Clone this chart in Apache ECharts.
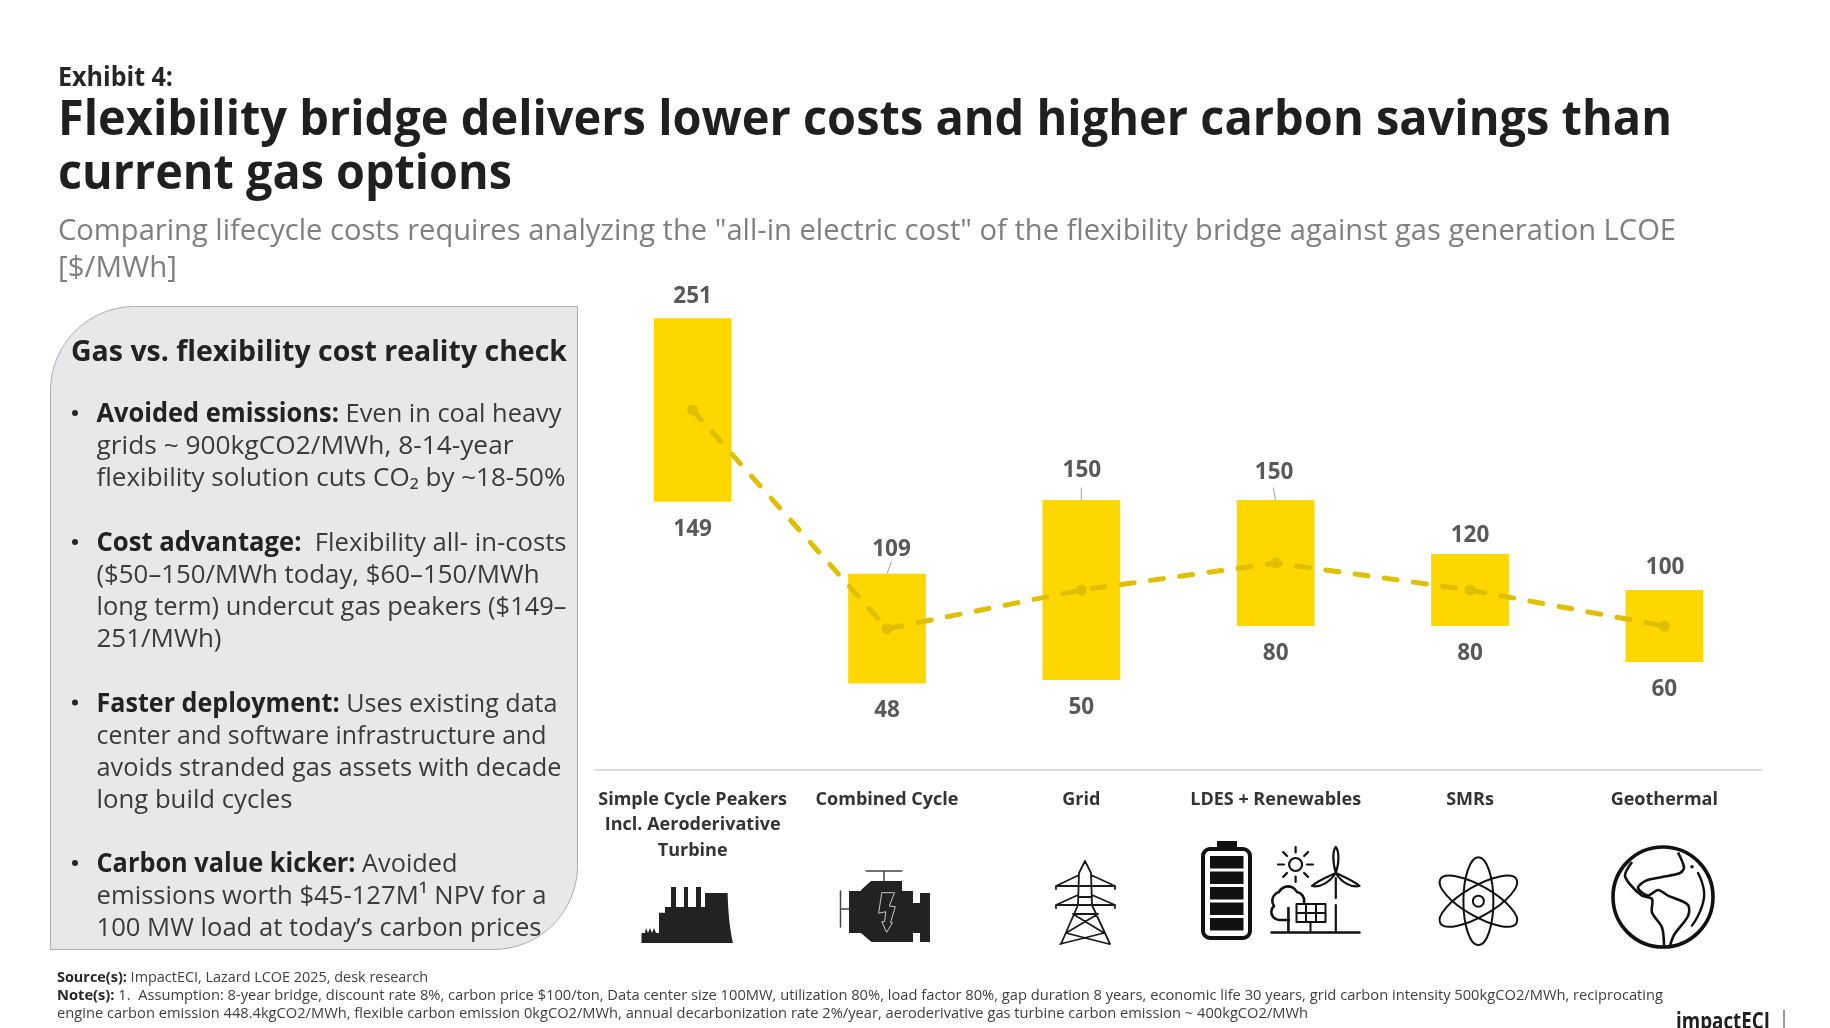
<!DOCTYPE html>
<html>
<head>
<meta charset="utf-8">
<title>Flexibility bridge cost comparison</title>
<script src="https://cdn.jsdelivr.net/npm/echarts@6/dist/echarts.min.js"></script>
<style>
  html, body { margin: 0; padding: 0; background: #fff; }
  #chart { width: 1830px; height: 1028px; }
</style>
</head>
<body>
<div id="chart"></div>
<script>
// Levelised cost ranges, $/MWh
const categories = ['Simple Cycle Peakers\nIncl. Aeroderivative\nTurbine', 'Combined Cycle', 'Grid', 'LDES + Renewables', 'SMRs', 'Geothermal'];
const highCost = [251, 109, 150, 150, 120, 100];
const lowCost = [149, 48, 50, 80, 80, 60];
const midCost = [200, 78.5, 100, 115, 100, 80];

const exhibitLabel = 'Exhibit 4:';
const titleLines = ['Flexibility bridge delivers lower costs and higher carbon savings than', 'current gas options'];
const subtitleLines = ['Comparing lifecycle costs requires analyzing the "all-in electric cost" of the flexibility bridge against gas generation LCOE', '[$/MWh]'];
const panelHeading = 'Gas vs. flexibility cost reality check';
const panelBullets = [
  { lead: 'Avoided emissions:', first: ' Even in coal heavy', rest: ['grids ~ 900kgCO2/MWh, 8-14-year', 'flexibility solution cuts CO₂ by ~18-50%'] },
  { lead: 'Cost advantage:', first: '  Flexibility all- in-costs', rest: ['($50–150/MWh today, $60–150/MWh', 'long term) undercut gas peakers ($149–', '251/MWh)'] },
  { lead: 'Faster deployment:', first: ' Uses existing data', rest: ['center and software infrastructure and', 'avoids stranded gas assets with decade', 'long build cycles'] },
  { lead: 'Carbon value kicker:', first: ' Avoided', rest: ['emissions worth $45-127M¹ NPV for a', '100 MW load at today’s carbon prices'] }
];
const sourceNote = ['Source(s):', ' ImpactECI, Lazard LCOE 2025, desk research'];
const assumptionNote = ['Note(s):', ' 1.  Assumption: 8-year bridge, discount rate 8%, carbon price $100/ton, Data center size 100MW, utilization 80%, load factor 80%, gap duration 8 years, economic life 30 years, grid carbon intensity 500kgCO2/MWh, reciprocating'];
const assumptionNoteEnd = 'engine carbon emission 448.4kgCO2/MWh, flexible carbon emission 0kgCO2/MWh, annual decarbonization rate 2%/year, aeroderivative gas turbine carbon emission ~ 400kgCO2/MWh';
const brandName = 'impactECI';

const FONT = '"Open Sans", "Noto Sans", sans-serif';
const BASELINE_SHIFT = 0.27;
const ctx = document.createElement('canvas').getContext('2d');
function measure(text, size, weight) {
  ctx.font = weight + ' ' + size + 'px ' + FONT;
  return ctx.measureText(text).width;
}

// Plain line of text placed by its baseline and fitted to a given width
function textLine(text, x, baseline, size, weight, fill, width) {
  return {
    type: 'text', x: x, y: baseline - BASELINE_SHIFT * size, scaleX: width / measure(text, size, weight), silent: true,
    style: { text: text, fill: fill, fontFamily: FONT, fontSize: size, fontWeight: weight, textAlign: 'left', textVerticalAlign: 'middle' }
  };
}
// Line that opens with a bold lead-in
function leadLine(lead, tail, x, baseline, size, leadFill, tailFill, width) {
  const base = { fontFamily: FONT, fontSize: size };
  const natural = measure(lead, size, 'bold') + measure(tail, size, 'normal');
  return {
    type: 'text', x: x, y: baseline - BASELINE_SHIFT * size, scaleX: width / natural, silent: true,
    style: {
      text: '{b|' + lead + '}{n|' + tail + '}', textAlign: 'left', textVerticalAlign: 'middle',
      fontFamily: FONT, fontSize: size,
      rich: {
        b: Object.assign({ fontWeight: 'bold', fill: leadFill }, base),
        n: Object.assign({ fontWeight: 'normal', fill: tailFill }, base)
      }
    }
  };
}

const elements = [];

// Header block
elements.push(textLine(exhibitLabel, 58, 86, 26, 'bold', '#262626', 115));
elements.push(textLine(titleLines[0], 58, 134.5, 48, 'bold', '#1f1f1f', 1614));
elements.push(textLine(titleLines[1], 58, 188, 48, 'bold', '#1f1f1f', 454));
elements.push(textLine(subtitleLines[0], 58, 240, 29, 'normal', '#7f7f7f', 1618));
elements.push(textLine(subtitleLines[1], 58, 277, 29, 'normal', '#7f7f7f', 119));

// Commentary panel
elements.push({
  type: 'rect', silent: true,
  shape: { x: 50.5, y: 306.5, width: 527, height: 643, r: [84, 0, 84, 0] },
  style: { fill: '#e7e8ea', stroke: '#a9aeb3', lineWidth: 1 }
});
elements.push(textLine(panelHeading, 71, 361, 29, 'bold', '#222222', 496));

const bulletBaselines = [
  [422, 454, 486],
  [551, 583, 615, 647],
  [711.5, 743.5, 775.5, 807.5],
  [872, 904, 936]
];
const bulletWidths = [
  [465, 417, 469],
  [470, 443, 470, 125],
  [461, 450, 465, 196],
  [361, 450, 445]
];
panelBullets.forEach(function (b, i) {
  const rows = bulletBaselines[i];
  elements.push({
    type: 'circle', silent: true,
    shape: { cx: 75, cy: rows[0] - 9, r: 3 },
    style: { fill: '#262626' }
  });
  elements.push(leadLine(b.lead, b.first, 96.5, rows[0], 26, '#222222', '#3a3a3a', bulletWidths[i][0]));
  b.rest.forEach(function (t, j) {
    elements.push(textLine(t, 96.5, rows[j + 1], 26, 'normal', '#3a3a3a', bulletWidths[i][j + 1]));
  });
});

// Footnotes and brand
elements.push(leadLine(sourceNote[0], sourceNote[1], 57, 982, 15, '#262626', '#404040', 371));
elements.push(leadLine(assumptionNote[0], assumptionNote[1], 57, 1000, 15, '#262626', '#404040', 1606));
elements.push(textLine(assumptionNoteEnd, 57, 1018, 15, 'normal', '#404040', 1251));
elements.push(textLine(brandName, 1676, 1029, 23, 'bold', '#1f1f1f', 94));
elements.push({ type: 'line', silent: true, shape: { x1: 1784, y1: 1010, x2: 1784, y2: 1028 }, style: { stroke: '#333333', lineWidth: 1 } });

// Category pictograms: each SVG path becomes a registered shape class
let glyphCount = 0;
function glyph(d, style) {
  const name = 'glyph' + (glyphCount++);
  echarts.graphic.registerShape(name, echarts.graphic.extendPath(d));
  return { type: name, silent: true, style: style };
}
function outline(d, width, color) {
  return glyph(d, { fill: 'none', stroke: color || '#111111', lineWidth: width, lineCap: 'round', lineJoin: 'round' });
}
function solid(d, color) {
  return glyph(d, { fill: color || '#222222' });
}

// Power plant
elements.push(solid('M641.5 943 L641.5 933 L645 933 L646 928 L648 933 L650 928 L652 933 L654 928 L656 933 L659 933 L659 912.7 L665 912.7 L665 907 L671 907 L671 887 L676 887 L676 907 L684 907 L684 887 L688 887 L688 907 L696 907 L696 887 L701 887 L701 907 L705 907 L705 893 L727.6 893 Q728.5 925 733 943 Z'));

// Engine with bolt
elements.push(solid('M861 890 L871 881 L902 881 L902 891 L913 891 L913 903 L920 903 L920 893 L930 893 L930 942 L920 942 L920 933 L913 933 L913 942 L871.5 942 L861 933 L849 933 L849 891 L861 891 Z'));
elements.push(outline('M840.5 891 V927 M840.5 909 H849 M866 871 H902 M884 871 V881', 1.5, '#444444'));
elements.push(glyph('M881.8 892.7 L894.5 892.7 L889.3 906 L895.3 906.7 L890.5 922.7 L892.5 922.7 L886.6 932.3 L881.8 921.7 L884.6 921.7 L885.8 911.7 L878.6 913.3 Z', { fill: 'none', stroke: '#c8c8c8', lineWidth: 1 }));

// Transmission pylon
elements.push(outline('M1085 861 L1079 873 L1078 905 L1061 944 M1085 861 L1091 873 L1092 905 L1110 944 M1056 889 V886 H1115 V889 M1056 886 L1079 875 M1115 886 L1091 875 M1056 908 V905 H1115 V908 M1056 905 L1078 895 M1115 905 L1092 895 M1078 897 H1092 M1073 914 H1098 M1073 914 L1104 933 M1098 914 L1066 933 M1066 933 L1109 944 M1104 933 L1060 944', 1.8, '#1a1a1a'));

// Battery
elements.push({ type: 'rect', silent: true, shape: { x: 1203, y: 849, width: 47, height: 89, r: 7 }, style: { fill: 'none', stroke: '#111111', lineWidth: 4 } });
elements.push({ type: 'rect', silent: true, shape: { x: 1217, y: 841, width: 20, height: 7 }, style: { fill: '#111111' } });
[856, 871.5, 887, 902.5, 918].forEach(function (top) {
  elements.push({ type: 'rect', silent: true, shape: { x: 1210, y: top, width: 33.5, height: 12.5 }, style: { fill: '#111111' } });
});

// Sun, tree, solar panel and wind turbine
elements.push({ type: 'circle', silent: true, shape: { cx: 1295.6, cy: 864.5, r: 6.5 }, style: { fill: 'none', stroke: '#111111', lineWidth: 2.2 } });
elements.push(outline('M1295.6 847 V852.5 M1295.6 876.5 V882 M1278 864.5 H1284 M1307 864.5 H1313 M1283.2 852.1 L1287.1 856 M1304.1 873 L1308 876.9 M1308 852.1 L1304.1 856 M1287.1 873 L1283.2 876.9', 2.2));
elements.push(outline('M1335.8 873 C1332 860 1333 850 1335.8 847 C1338.5 850 1340 860 1335.8 873 M1335.8 873 C1327 877 1317 881 1312 886 C1320 888 1330 882 1335.8 873 M1335.8 873 C1344 877 1354 881 1359.5 886 C1351 888 1341 882 1335.8 873 M1335.8 878 V898 M1335.8 905 V931', 2.2));
elements.push(outline('M1289 920 L1279 920 A8 8 0 0 1 1274 906 A9 9 0 0 1 1279 892 A10 10 0 0 1 1297 892 A9 9 0 0 1 1304 903 M1288.4 908 V932 M1271.5 932.5 H1359.5', 2.6));
elements.push(outline('M1296.5 904 H1325.5 V922 H1296.5 Z M1296.5 913 H1325.5 M1306 904 V922 M1316 904 V922 M1310.5 922 V932', 2));

// Atom
[0, Math.PI / 3, -Math.PI / 3].forEach(function (angle) {
  elements.push({
    type: 'ellipse', silent: true, x: 1478.4, y: 901.2, rotation: angle,
    shape: { cx: 0, cy: 0, rx: 15, ry: 44 },
    style: { fill: 'none', stroke: '#111111', lineWidth: 2 }
  });
});
elements.push({ type: 'circle', silent: true, shape: { cx: 1478.4, cy: 901.2, r: 5.5 }, style: { fill: 'none', stroke: '#111111', lineWidth: 2 } });

// Globe
elements.push({ type: 'circle', silent: true, shape: { cx: 1663, cy: 897, r: 50 }, style: { fill: 'none', stroke: '#111111', lineWidth: 3.6 } });
elements.push({
  type: 'polyline', silent: true,
  shape: {
    smooth: 0.3,
    points: [[1678, 852.5], [1684, 867.5], [1680, 873], [1662, 877], [1646, 880.6], [1638, 888], [1648, 895.6], [1658, 890], [1668, 895.6], [1688, 905], [1688, 916], [1674, 935], [1670, 946]]
  },
  style: { fill: 'none', stroke: '#111111', lineWidth: 2.6 }
});
elements.push({
  type: 'polyline', silent: true,
  shape: {
    smooth: 0.3,
    points: [[1664, 946], [1662, 927.5], [1652, 912.5], [1652, 899], [1642, 895.6], [1630, 884.4], [1625, 875], [1632, 862]]
  },
  style: { fill: 'none', stroke: '#111111', lineWidth: 2.6 }
});
elements.push({
  type: 'polyline', silent: true,
  shape: { smooth: 0.5, points: [[1698, 873], [1704, 897.5], [1692, 925.6]] },
  style: { fill: 'none', stroke: '#111111', lineWidth: 2.4, lineCap: 'round' }
});
elements.push({ type: 'circle', silent: true, shape: { cx: 1692, cy: 866.8, r: 1.8 }, style: { fill: '#111111' } });

const LABEL_STYLE = { color: '#595959', fontFamily: FONT, fontSize: 22.5, fontWeight: 'bold' };
const highLabelOffset = [[0, -5], [4.5, -8], [0.5, -13], [-1.5, -11], [0, -2], [0.8, -5.5]];
const lowLabelOffset = [[0, 11], [0, 10], [0, 11], [0, 11], [0, 11], [0, 11]];
// Bars whose upper label sits far enough away to need a short leader
const leaderRows = [[1, 4.5], [2, 0], [3, -2.5]];

const option = {
  animation: false,
  backgroundColor: '#ffffff',
  graphic: { elements: elements },
  grid: { left: 595.5, top: 266, width: 1166, height: 504, containLabel: false },
  xAxis: {
    type: 'category',
    data: categories,
    axisTick: { show: false },
    axisLine: { lineStyle: { color: '#dcdcdc', width: 2 } },
    axisLabel: { interval: 0, margin: 17, color: '#333333', fontFamily: FONT, fontSize: 18, fontWeight: 'bold', lineHeight: 25.5, verticalAlign: 'top' }
  },
  yAxis: { type: 'value', min: 0, max: 280, show: false },
  series: [
    {
      name: 'Low', type: 'bar', stack: 'range', barCategoryGap: '60%', silent: true,
      itemStyle: { color: 'transparent' },
      data: lowCost.map(function (v, i) {
        return {
          value: v,
          label: Object.assign({ show: true, position: 'insideTop', formatter: String(v), offset: lowLabelOffset[i] }, LABEL_STYLE)
        };
      })
    },
    {
      name: 'Range', type: 'bar', stack: 'range', silent: true,
      itemStyle: { color: '#ffd700' },
      data: highCost.map(function (v, i) {
        return {
          value: v - lowCost[i],
          label: Object.assign({ show: true, position: 'top', formatter: String(v), offset: highLabelOffset[i] }, LABEL_STYLE)
        };
      })
    },
    {
      name: 'Leaders', type: 'custom', silent: true, z: 1,
      data: leaderRows.map(function (r) { return [r[0], highCost[r[0]], r[1]]; }),
      renderItem: function (params, api) {
        const p = api.coord([api.value(0), api.value(1)]);
        return {
          type: 'line',
          shape: { x1: p[0], y1: p[1], x2: p[0] + api.value(2), y2: p[1] - 12.5 },
          style: { stroke: '#a6a6a6', lineWidth: 1 }
        };
      }
    },
    {
      name: 'Midpoint', type: 'line', silent: true, z: 5,
      data: midCost,
      symbol: 'circle', symbolSize: 11,
      itemStyle: { color: '#e0be00' },
      lineStyle: { color: '#e0be00', width: 5, type: [13, 16.5], cap: 'round' }
    }
  ]
};

const chart = echarts.init(document.getElementById('chart'));
chart.setOption(option);
</script>
</body>
</html>
